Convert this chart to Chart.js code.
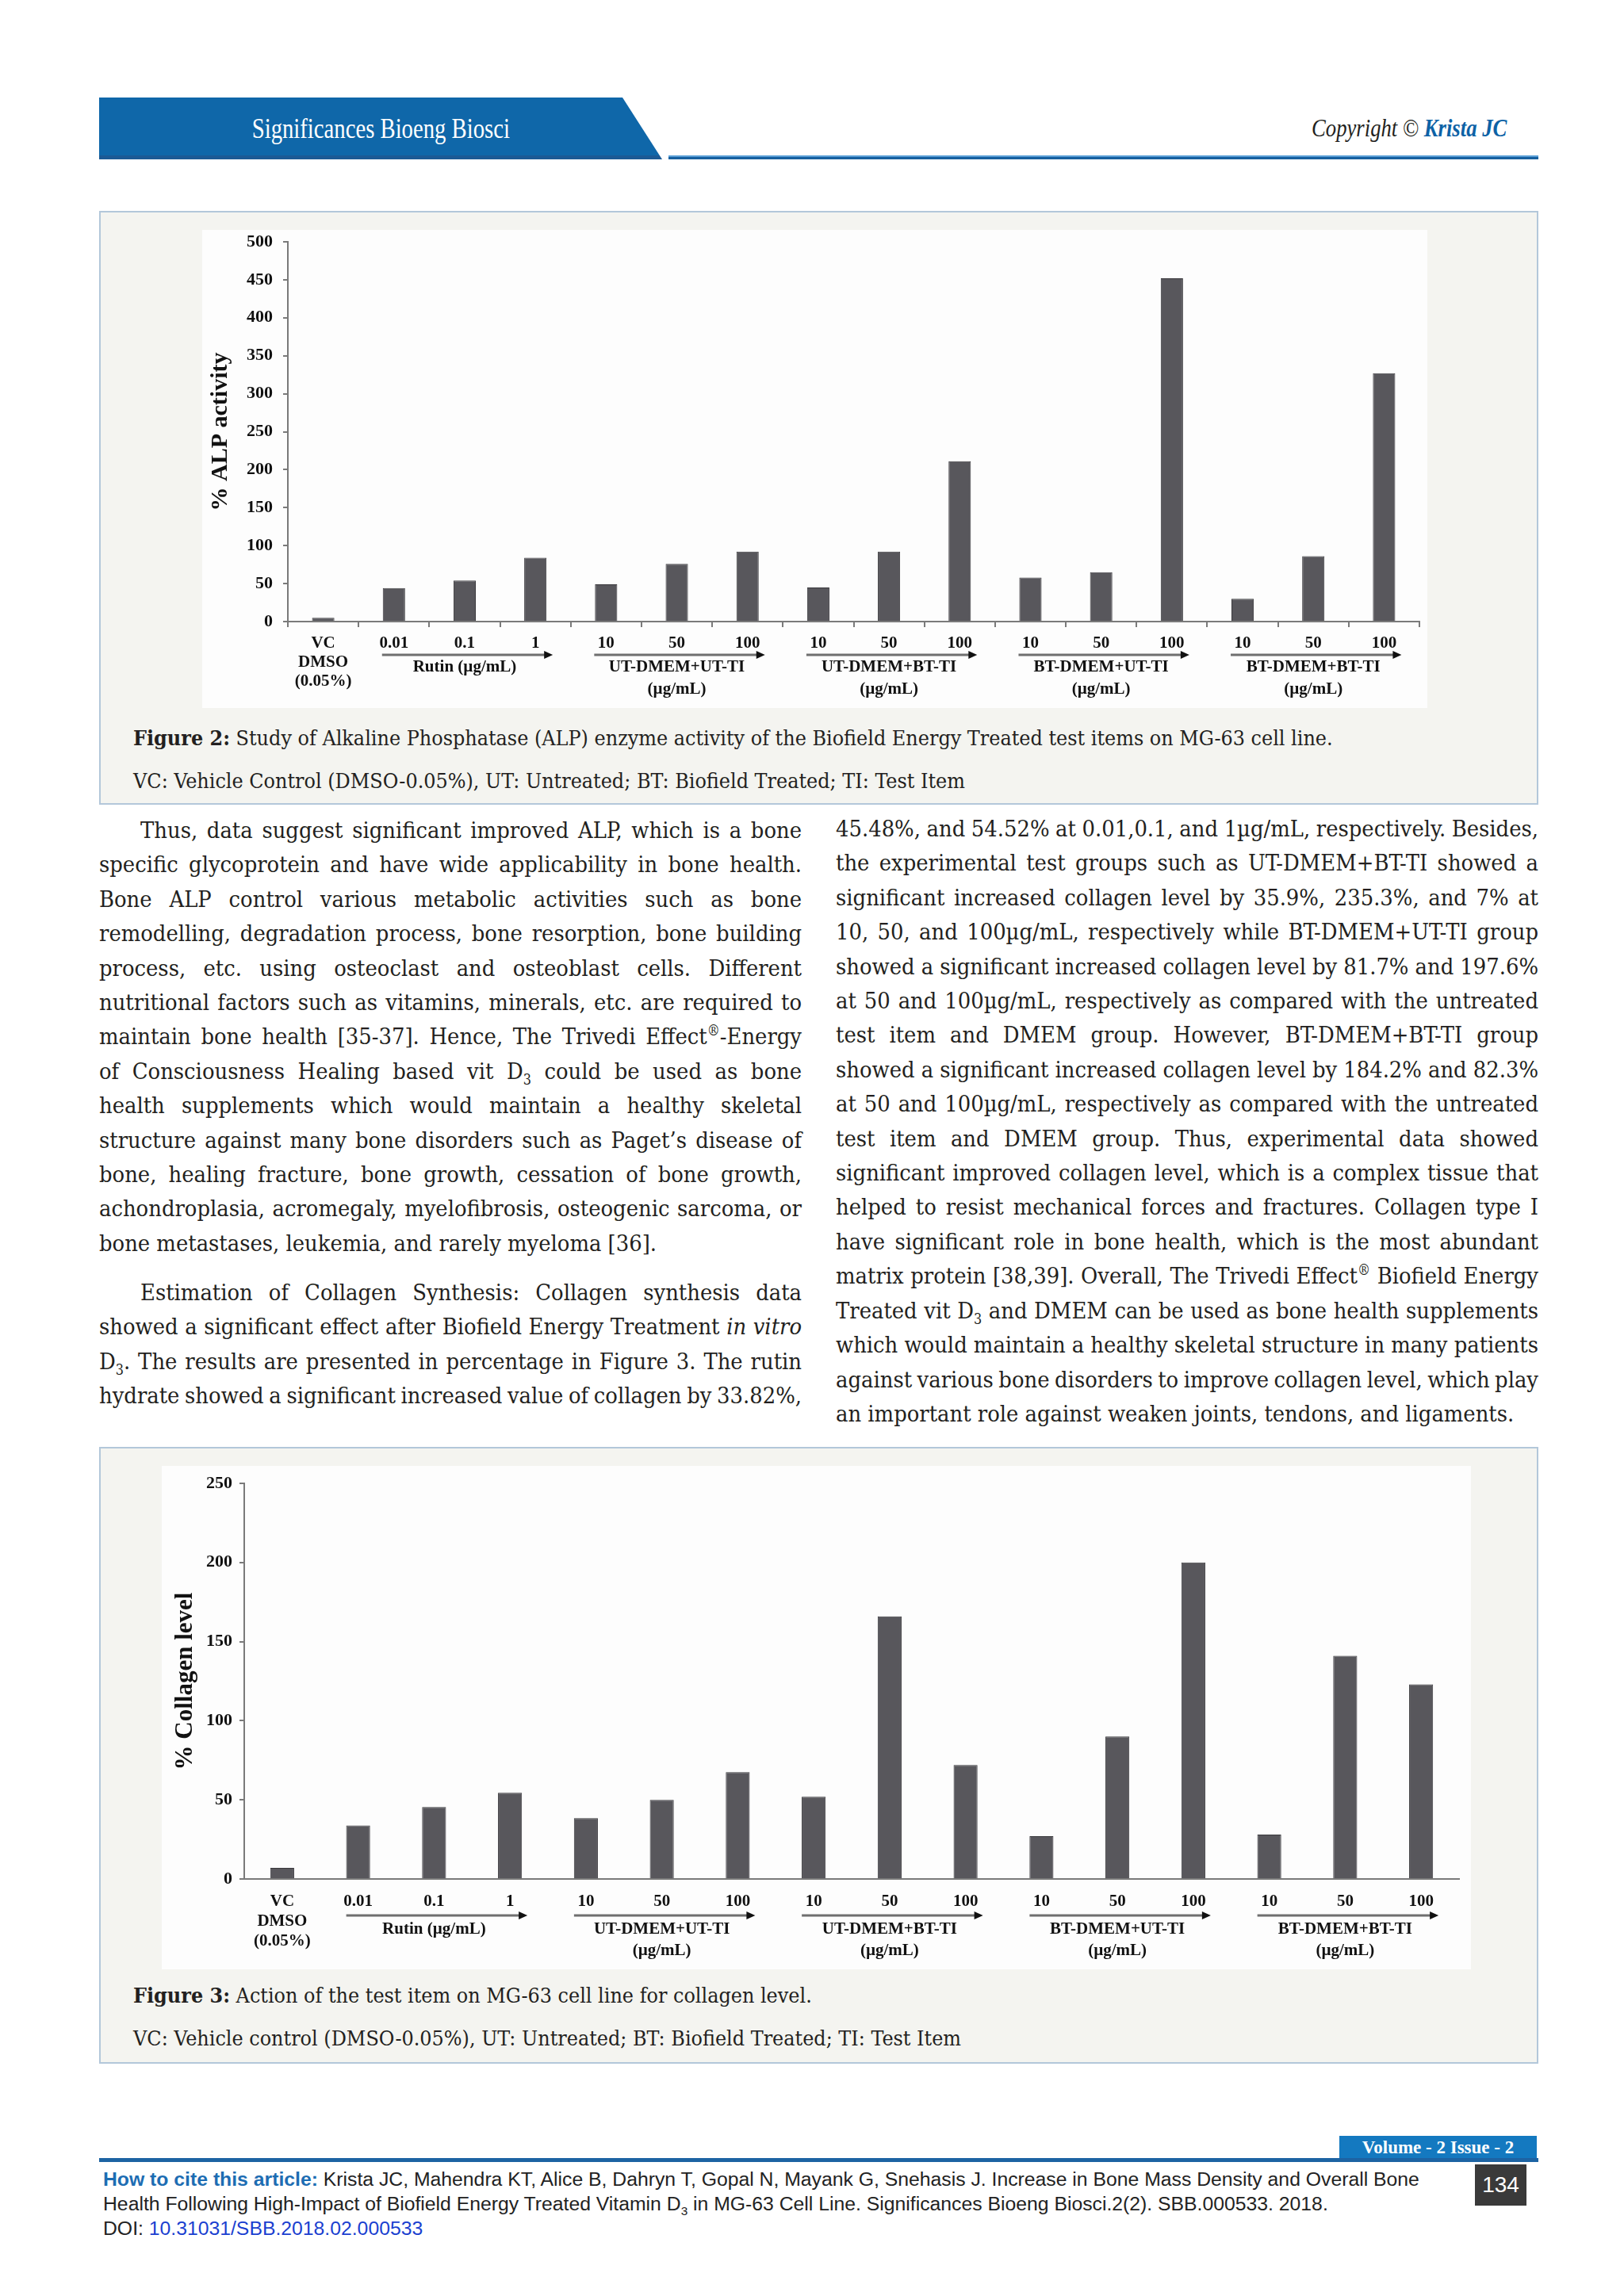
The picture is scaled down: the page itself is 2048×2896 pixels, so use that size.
<!DOCTYPE html>
<html>
<head>
<meta charset="utf-8">
<script src="https://cdn.jsdelivr.net/npm/chart.js@4.4.1/dist/chart.umd.min.js"></script>
<style>
  html, body { margin: 0; padding: 0; background: #fff; }
  body { width: 2048px; height: 2896px; position: relative; overflow: hidden;
         font-family: 'Liberation Serif', serif; color: #231f20; }
  .abs { position: absolute; }
  .cond { font-family: 'DejaVu Serif Condensed', 'DejaVu Serif', serif; font-stretch: condensed; }

  /* header */
  #band { left: 125px; top: 123px; width: 710px; height: 78px;
          background: linear-gradient(to bottom, #0f67a9 0, #0f67a9 73px, #1b5a95 73px);
          clip-path: polygon(0 0, 660px 0, 710px 100%, 0 100%); }
  #bandTitle { left: 125px; top: 142px; width: 710px; text-align: center; color: #fff;
               font-size: 35px; line-height: 42px; }
  #bandTitle span { display: inline-block; transform: scaleX(0.82); }
  #hdrLine { left: 843px; top: 196px; width: 1097px; height: 5px;
             background: linear-gradient(to bottom, #5a9fd6 0, #5a9fd6 2px, #17609f 2px); }
  #copy { right: 148px; top: 145px; font-size: 31px; line-height: 34px; font-style: italic;
          transform: scaleX(0.86); transform-origin: right center; }
  #copy b { color: #0d62a6; }

  /* figure boxes */
  .fig { background: #f4f4f0; border: 2px solid #b3c7da; box-sizing: border-box; }
  .panel { background: #fdfdfd; }
  .cap { font-size: 24px; line-height: 30px; white-space: nowrap; }

  /* body text */
  .col { width: 886px; font-size: 27px; line-height: 43.4px; }
  .ln { white-space: nowrap; box-sizing: border-box; width: 886px; }
  .ind { padding-left: 52px; }
  sub, sup { line-height: 0; font-size: 62%; }

  /* footer */
  #vol { left: 1689px; top: 2694px; width: 249px; height: 30px; background: #1479c0; color: #fff;
         font-weight: bold; font-size: 23px; line-height: 30px; text-align: center; }
  #ftLine { left: 125px; top: 2722px; width: 1815px; height: 5px; background: #1d63a3; }
  #pg { left: 1860px; top: 2730px; width: 65px; height: 52px; background: #3a3a3a; color: #fff;
        font-family: 'Liberation Sans', sans-serif; font-size: 28px; line-height: 52px; text-align: center; }
  #cite { left: 130px; top: 2733px; font-family: 'Liberation Sans', sans-serif; font-size: 24px;
          line-height: 31px; color: #222; white-space: nowrap; }
  #cite .hl { color: #1d6db3; font-weight: bold; }
  #cite .doi { color: #1a3fd0; }
</style>
</head>
<body>

<div id="band" class="abs"></div>
<div id="bandTitle" class="abs"><span>Significances Bioeng Biosci</span></div>
<div id="hdrLine" class="abs"></div>
<div id="copy" class="abs">Copyright © <b>Krista JC</b></div>

<!-- Figure 2 -->
<div class="abs fig" style="left:125px;top:266px;width:1815px;height:749px;"></div>
<div class="abs panel" style="left:255px;top:290px;width:1545px;height:603px;">
  <canvas id="chartAlp" width="1545" height="603" style="width:1545px;height:603px;"></canvas>
</div>
<div id="cap2" class="abs cap cond" style="left:168px;top:916px;"><b>Figure 2:</b> Study of Alkaline Phosphatase (ALP) enzyme activity of the Biofield Energy Treated test items on MG-63 cell line.</div>
<div class="abs cap cond" style="left:168px;top:970px;">VC: Vehicle Control (DMSO-0.05%), UT: Untreated; BT: Biofield Treated; TI: Test Item</div>

<!-- body text, left column -->
<div class="abs col cond" style="left:125px;top:1026px;">
  <div class="ln ind"><span>Thus, data suggest significant improved ALP, which is a bone</span></div>
  <div class="ln"><span>specific glycoprotein and have wide applicability in bone health.</span></div>
  <div class="ln"><span>Bone ALP control various metabolic activities such as bone</span></div>
  <div class="ln"><span>remodelling, degradation process, bone resorption, bone building</span></div>
  <div class="ln"><span>process, etc. using osteoclast and osteoblast cells. Different</span></div>
  <div class="ln"><span>nutritional factors such as vitamins, minerals, etc. are required to</span></div>
  <div class="ln"><span>maintain bone health [35-37]. Hence, The Trivedi Effect<sup>®</sup>-Energy</span></div>
  <div class="ln"><span>of Consciousness Healing based vit D<sub>3</sub> could be used as bone</span></div>
  <div class="ln"><span>health supplements which would maintain a healthy skeletal</span></div>
  <div class="ln"><span>structure against many bone disorders such as Paget’s disease of</span></div>
  <div class="ln"><span>bone, healing fracture, bone growth, cessation of bone growth,</span></div>
  <div class="ln"><span>achondroplasia, acromegaly, myelofibrosis, osteogenic sarcoma, or</span></div>
  <div class="ln last"><span id="lastL">bone metastases, leukemia, and rarely myeloma [36].</span></div>
</div>
<div class="abs col cond" style="left:125px;top:1609px;">
  <div class="ln ind"><span>Estimation of Collagen Synthesis: Collagen synthesis data</span></div>
  <div class="ln"><span>showed a significant effect after Biofield Energy Treatment <i>in vitro</i></span></div>
  <div class="ln"><span>D<sub>3</sub>. The results are presented in percentage in Figure 3. The rutin</span></div>
  <div class="ln"><span>hydrate showed a significant increased value of collagen by 33.82%,</span></div>
</div>

<!-- body text, right column -->
<div class="abs col cond" style="left:1054px;top:1024px;">
  <div class="ln"><span>45.48%, and 54.52% at 0.01,0.1, and 1µg/mL, respectively. Besides,</span></div>
  <div class="ln"><span>the experimental test groups such as UT-DMEM+BT-TI showed a</span></div>
  <div class="ln"><span>significant increased collagen level by 35.9%, 235.3%, and 7% at</span></div>
  <div class="ln"><span>10, 50, and 100µg/mL, respectively while BT-DMEM+UT-TI group</span></div>
  <div class="ln"><span>showed a significant increased collagen level by 81.7% and 197.6%</span></div>
  <div class="ln"><span>at 50 and 100µg/mL, respectively as compared with the untreated</span></div>
  <div class="ln"><span>test item and DMEM group. However, BT-DMEM+BT-TI group</span></div>
  <div class="ln"><span>showed a significant increased collagen level by 184.2% and 82.3%</span></div>
  <div class="ln"><span>at 50 and 100µg/mL, respectively as compared with the untreated</span></div>
  <div class="ln"><span>test item and DMEM group. Thus, experimental data showed</span></div>
  <div class="ln"><span>significant improved collagen level, which is a complex tissue that</span></div>
  <div class="ln"><span>helped to resist mechanical forces and fractures. Collagen type I</span></div>
  <div class="ln"><span>have significant role in bone health, which is the most abundant</span></div>
  <div class="ln"><span>matrix protein [38,39]. Overall, The Trivedi Effect<sup>®</sup> Biofield Energy</span></div>
  <div class="ln"><span>Treated vit D<sub>3</sub> and DMEM can be used as bone health supplements</span></div>
  <div class="ln"><span>which would maintain a healthy skeletal structure in many patients</span></div>
  <div class="ln"><span>against various bone disorders to improve collagen level, which play</span></div>
  <div class="ln last"><span id="lastR">an important role against weaken joints, tendons, and ligaments.</span></div>
</div>

<!-- Figure 3 -->
<div class="abs fig" style="left:125px;top:1825px;width:1815px;height:778px;"></div>
<div class="abs panel" style="left:204px;top:1849px;width:1651px;height:635px;">
  <canvas id="chartCol" width="1651" height="635" style="width:1651px;height:635px;"></canvas>
</div>
<div class="abs cap cond" style="left:168px;top:2502px;"><b>Figure 3:</b> Action of the test item on MG-63 cell line for collagen level.</div>
<div class="abs cap cond" style="left:168px;top:2556px;">VC: Vehicle control (DMSO-0.05%), UT: Untreated; BT: Biofield Treated; TI: Test Item</div>

<!-- footer -->
<div id="vol" class="abs">Volume - 2 Issue - 2</div>
<div id="ftLine" class="abs"></div>
<div id="pg" class="abs">134</div>
<div id="cite" class="abs">
  <div><span id="cite1"><span class="hl">How to cite this article:</span> Krista JC, Mahendra KT, Alice B, Dahryn T, Gopal N, Mayank G, Snehasis J. Increase in Bone Mass Density and Overall Bone</span></div>
  <div>Health Following High-Impact of Biofield Energy Treated Vitamin D<sub>3</sub> in MG-63 Cell Line. Significances Bioeng Biosci.2(2). SBB.000533. 2018.</div>
  <div>DOI: <span class="doi">10.31031/SBB.2018.02.000533</span></div>
</div>

<script>
/* data */
const categories = [['VC', 'DMSO', '(0.05%)'], '0.01', '0.1', '1',
                    '10', '50', '100', '10', '50', '100', '10', '50', '100', '10', '50', '100'];
const alpActivity   = [5, 44, 54, 84, 49, 76, 92, 45, 92, 211, 58, 65, 452, 30, 86, 327];
const collagenLevel = [7, 33.8, 45.5, 54.5, 38.5, 50, 67.5, 52, 166, 72, 27, 90, 200, 28, 141, 123];
const alpRange = [0, 500];
const collagenRange = [0, 250];
const tickStep = 50;
const groupNames = [['Rutin (µg/mL)'], ['UT-DMEM+UT-TI', '(µg/mL)'], ['UT-DMEM+BT-TI', '(µg/mL)'],
                    ['BT-DMEM+UT-TI', '(µg/mL)'], ['BT-DMEM+BT-TI', '(µg/mL)']];
const groupFrom = [1, 4, 7, 10, 13];
const groupTo   = [3, 6, 9, 12, 15];

const SERIF = "'Liberation Serif', serif";

/* arrows + treatment names under the dose labels */
const groupArrows = {
  id: 'groupArrows',
  afterDraw(chart, args, o) {
    const { ctx } = chart;
    const x = chart.scales.x;
    const base = x.top;
    ctx.save();
    groupNames.forEach((name, i) => {
      const x1 = x.getPixelForValue(groupFrom[i]) - o.startPad;
      const x2 = x.getPixelForValue(groupTo[i]) + o.endPad;
      const ay = base + o.arrowY;
      ctx.strokeStyle = '#6f6f6f';
      ctx.lineWidth = 3;
      ctx.beginPath(); ctx.moveTo(x1, ay); ctx.lineTo(x2 - 8, ay); ctx.stroke();
      ctx.fillStyle = '#111';
      ctx.beginPath();
      ctx.moveTo(x2, ay); ctx.lineTo(x2 - 11, ay - 5); ctx.lineTo(x2 - 11, ay + 5);
      ctx.closePath(); ctx.fill();

      const cx = x.getPixelForValue((groupFrom[i] + groupTo[i]) / 2);
      ctx.font = 'bold ' + o.fontSize + 'px ' + SERIF;
      ctx.textAlign = 'center';
      ctx.textBaseline = 'middle';
      name.forEach((line, k) => ctx.fillText(line, cx, base + o.labelY + k * o.lineGap));
    });
    ctx.restore();
  }
};

function barChart(id, values, range, cfg) {
  return new Chart(document.getElementById(id), {
    type: 'bar',
    data: {
      labels: categories,
      datasets: [{
        data: values,
        backgroundColor: '#58575c',
        borderColor: '#3a393d',
        borderWidth: 1,
        barPercentage: 0.315,
        categoryPercentage: 1
      }]
    },
    options: {
      responsive: false,
      animation: false,
      layout: { padding: cfg.padding },
      plugins: { legend: { display: false }, tooltip: { enabled: false }, groupArrows: cfg.arrows },
      scales: {
        x: {
          grid: { offset: true, drawOnChartArea: false, drawTicks: cfg.xTicks, tickLength: 7, color: '#7a7a7a', lineWidth: 2 },
          border: { color: '#7a7a7a', width: 2 },
          ticks: {
            color: '#111', autoSkip: false, maxRotation: 0, padding: cfg.xPad,
            font: { family: SERIF, size: 21, weight: 'bold', lineHeight: cfg.xLine / 21 }
          },
          afterFit: s => { s.height = cfg.xHeight; }
        },
        y: {
          min: range[0], max: range[1],
          grid: { drawOnChartArea: false, tickLength: 6, color: '#7a7a7a', lineWidth: 2 },
          border: { color: '#7a7a7a', width: 2 },
          ticks: {
            stepSize: tickStep, color: '#111', padding: cfg.yPad,
            font: { family: SERIF, size: 22, weight: 'bold', lineHeight: 1.2 }
          },
          title: {
            display: true, text: cfg.title, color: '#111', padding: 0,
            font: { family: SERIF, size: cfg.titleSize, weight: 'bold', lineHeight: 1 }
          },
          afterFit: s => { s.width = cfg.yWidth; s.paddingTop = 0; s.paddingBottom = 0; }
        }
      }
    },
    plugins: [groupArrows]
  });
}

/* scale a text block so a reference line gets the width it has in the print */
function fitSize(els, refs, targets) {
  let r = 0;
  refs.forEach((el, i) => { r += targets[i] / el.getBoundingClientRect().width; });
  r /= refs.length;
  els.forEach(el => {
    el.style.fontSize = (parseFloat(getComputedStyle(el).fontSize) * r) + 'px';
  });
}

function justifyLines() {
  document.querySelectorAll('.ln').forEach(ln => {
    if (ln.classList.contains('last')) return;
    const span = ln.firstElementChild;
    const avail = ln.clientWidth - parseFloat(getComputedStyle(ln).paddingLeft);
    const natural = span.getBoundingClientRect().width;
    const spaces = (span.textContent.match(/ /g) || []).length;
    if (spaces) span.style.wordSpacing = ((avail - natural) / spaces) + 'px';
  });
}

document.fonts.ready.then(() => {
  fitSize([...document.querySelectorAll('.col')],
          [document.getElementById('lastL'), document.getElementById('lastR')], [704, 855]);
  fitSize([...document.querySelectorAll('.cap')], [document.getElementById('cap2')], [1513]);
  fitSize([document.getElementById('cite')], [document.getElementById('cite1')], [1661]);
  justifyLines();

  barChart('chartAlp', alpActivity, alpRange, {
    padding: { left: 8, top: 15, right: 10, bottom: 0 },
    yWidth: 100, xHeight: 109, xTicks: true, xPad: 9, xLine: 24, yPad: 13,
    title: '% ALP activity', titleSize: 30,
    arrows: { arrowY: 42, labelY: 58, lineGap: 28, startPad: 15, endPad: 22, fontSize: 21 }
  });

  barChart('chartCol', collagenLevel, collagenRange, {
    padding: { left: 14, top: 22, right: 15, bottom: 0 },
    yWidth: 90, xHeight: 114, xTicks: false, xPad: 16, xLine: 25, yPad: 9,
    title: '% Collagen level', titleSize: 31,
    arrows: { arrowY: 46, labelY: 64, lineGap: 27, startPad: 15, endPad: 22, fontSize: 21 }
  });
});
</script>
</body>
</html>
